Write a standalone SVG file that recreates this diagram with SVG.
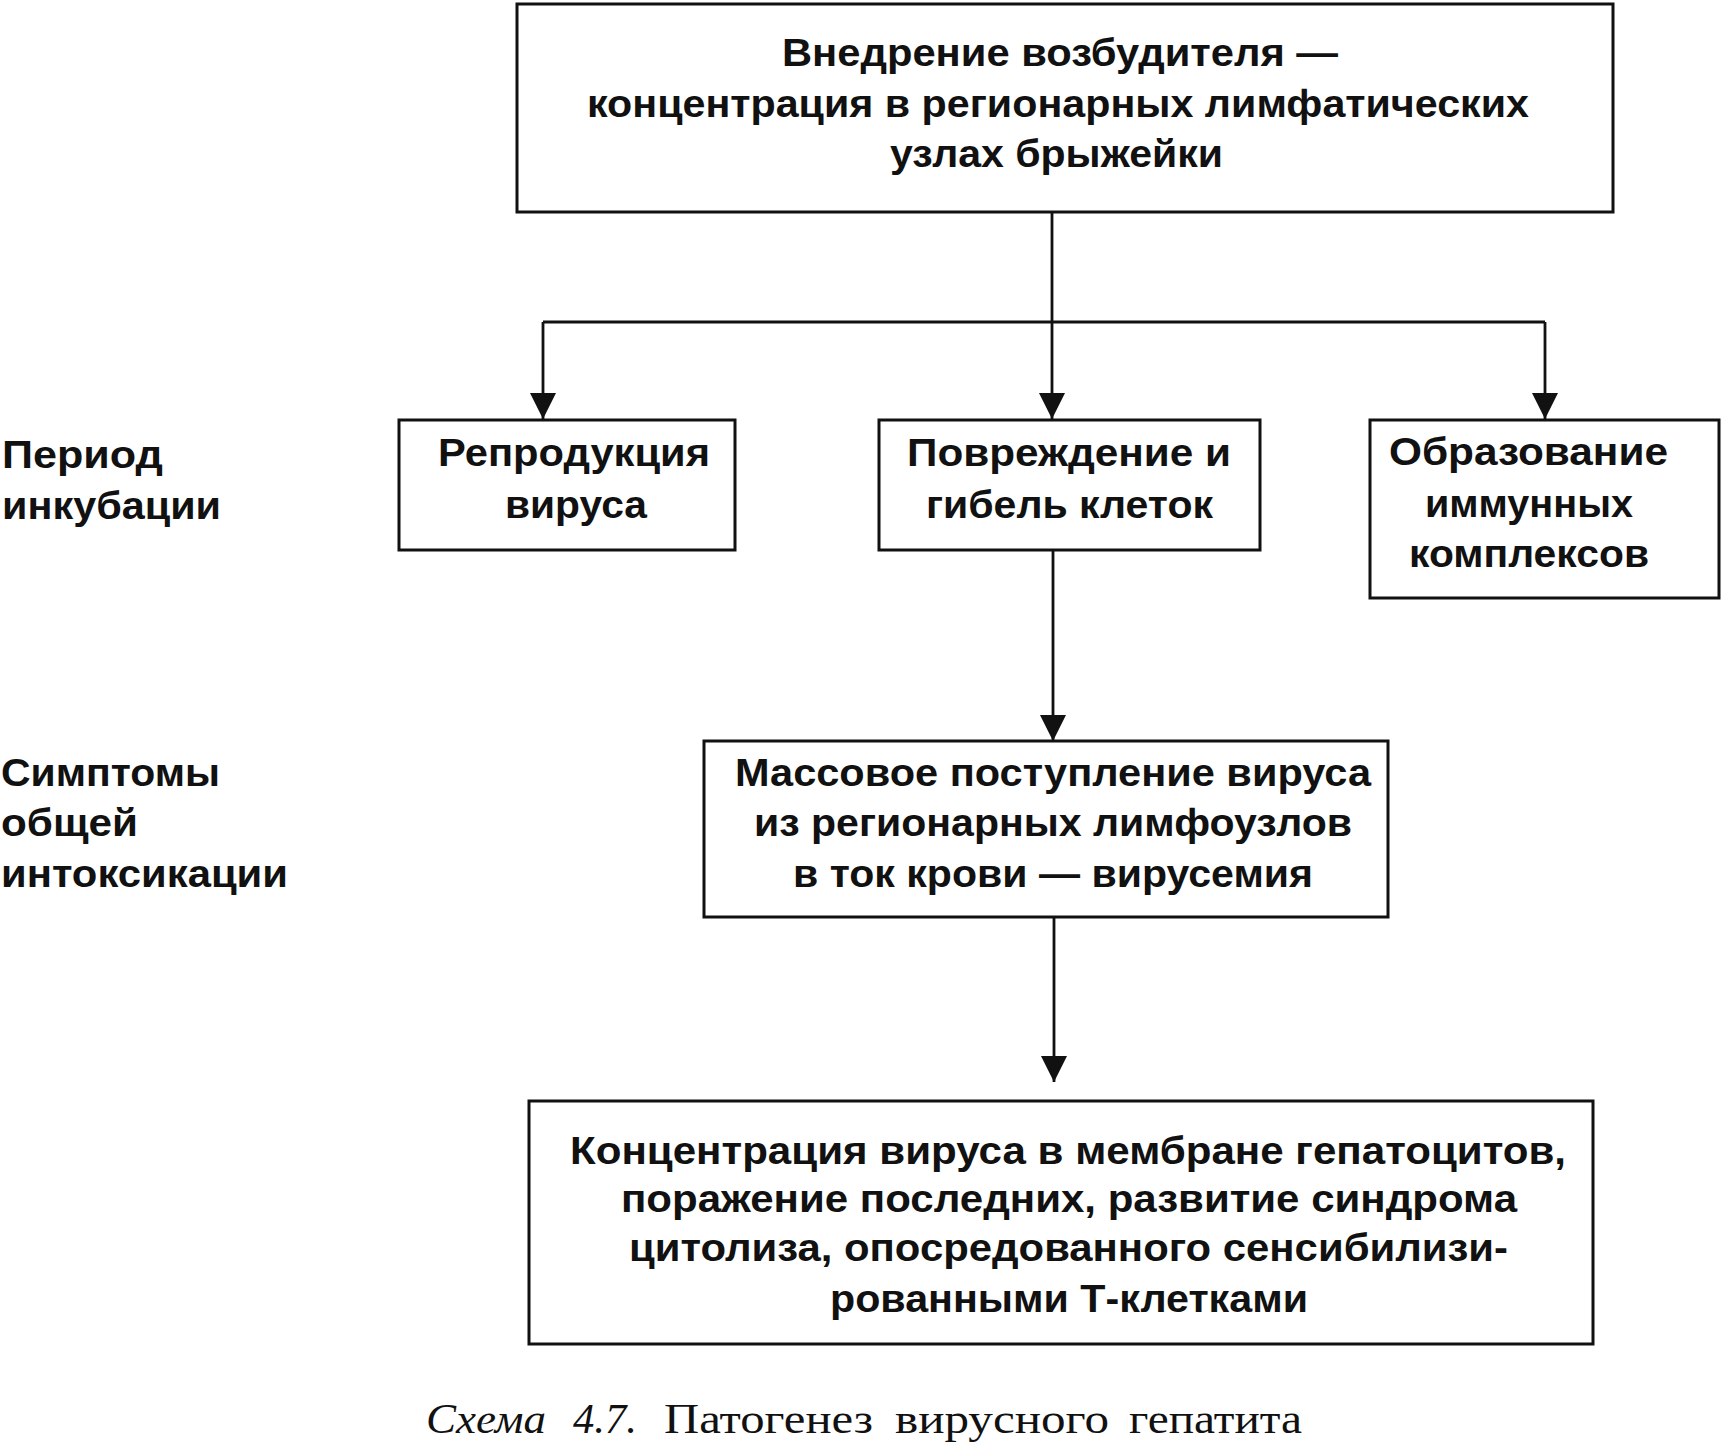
<svg xmlns="http://www.w3.org/2000/svg" width="1722" height="1446" viewBox="0 0 1722 1446">
<style>
.box{fill:#fff;stroke:#111;stroke-width:3}
.t{font-family:"Liberation Sans",Arial,sans-serif;font-weight:bold;font-size:39px;fill:#111}
.c{fill:none;stroke:#111;stroke-width:2.8}
.cap{font-family:"Liberation Serif","Times New Roman",serif;font-size:42px;fill:#111}
.it{font-style:italic}
</style>
<defs>
<marker id="ah" viewBox="0 0 26 26" refX="26" refY="13" markerWidth="26" markerHeight="26" markerUnits="userSpaceOnUse" orient="auto">
<path d="M0,0 L26,13 L0,26 Z" fill="#111"/>
</marker>
</defs>
<rect width="1722" height="1446" fill="#fff"/>
<g id="connectors">
<path class="c" d="M1052,212 V322"/>
<path class="c" d="M543,322 H1545"/>
<path class="c" d="M543,322 V419" marker-end="url(#ah)"/>
<path class="c" d="M1052,322 V419" marker-end="url(#ah)"/>
<path class="c" d="M1545,322 V419" marker-end="url(#ah)"/>
<path class="c" d="M1053,550 V741" marker-end="url(#ah)"/>
<path class="c" d="M1054,917 V1082" marker-end="url(#ah)"/>
</g>
<g id="n-top">
<rect class="box" x="517" y="4" width="1096" height="208"/>
<text class="t" x="782" y="66" textLength="556" lengthAdjust="spacingAndGlyphs">Внедрение возбудителя —</text>
<text class="t" x="587" y="117" textLength="942" lengthAdjust="spacingAndGlyphs">концентрация в регионарных лимфатических</text>
<text class="t" x="890" y="167" textLength="333" lengthAdjust="spacingAndGlyphs">узлах брыжейки</text>
</g>
<g id="label-incubation">
<text class="t" x="2" y="468" textLength="161" lengthAdjust="spacingAndGlyphs">Период</text>
<text class="t" x="2" y="519" textLength="219" lengthAdjust="spacingAndGlyphs">инкубации</text>
</g>
<g id="label-symptoms">
<text class="t" x="1" y="786" textLength="219" lengthAdjust="spacingAndGlyphs">Симптомы</text>
<text class="t" x="1" y="836" textLength="137" lengthAdjust="spacingAndGlyphs">общей</text>
<text class="t" x="1" y="887" textLength="287" lengthAdjust="spacingAndGlyphs">интоксикации</text>
</g>
<g id="n-reproduction">
<rect class="box" x="399" y="420" width="336" height="130"/>
<text class="t" x="438" y="466" textLength="272" lengthAdjust="spacingAndGlyphs">Репродукция</text>
<text class="t" x="505" y="518" textLength="142" lengthAdjust="spacingAndGlyphs">вируса</text>
</g>
<g id="n-damage">
<rect class="box" x="879" y="420" width="381" height="130"/>
<text class="t" x="907" y="466" textLength="324" lengthAdjust="spacingAndGlyphs">Повреждение и</text>
<text class="t" x="926" y="518" textLength="287" lengthAdjust="spacingAndGlyphs">гибель клеток</text>
</g>
<g id="n-immune">
<rect class="box" x="1370" y="420" width="349" height="178"/>
<text class="t" x="1389" y="465" textLength="279" lengthAdjust="spacingAndGlyphs">Образование</text>
<text class="t" x="1425" y="517" textLength="208" lengthAdjust="spacingAndGlyphs">иммунных</text>
<text class="t" x="1409" y="567" textLength="240" lengthAdjust="spacingAndGlyphs">комплексов</text>
</g>
<g id="n-viremia">
<rect class="box" x="704" y="741" width="684" height="176"/>
<text class="t" x="735" y="786" textLength="636" lengthAdjust="spacingAndGlyphs">Массовое поступление вируса</text>
<text class="t" x="754" y="836" textLength="598" lengthAdjust="spacingAndGlyphs">из регионарных лимфоузлов</text>
<text class="t" x="793" y="887" textLength="520" lengthAdjust="spacingAndGlyphs">в ток крови — вирусемия</text>
</g>
<g id="n-hepatocytes">
<rect class="box" x="529" y="1101" width="1064" height="243"/>
<text class="t" x="570" y="1164" textLength="996" lengthAdjust="spacingAndGlyphs">Концентрация вируса в мембране гепатоцитов,</text>
<text class="t" x="621" y="1212" textLength="896" lengthAdjust="spacingAndGlyphs">поражение последних, развитие синдрома</text>
<text class="t" x="629" y="1261" textLength="879" lengthAdjust="spacingAndGlyphs">цитолиза, опосредованного сенсибилизи-</text>
<text class="t" x="830" y="1312" textLength="478" lengthAdjust="spacingAndGlyphs">рованными Т-клетками</text>
</g>
<g id="caption">
<text class="cap it" x="426" y="1433" textLength="120" lengthAdjust="spacingAndGlyphs">Схема</text>
<text class="cap it" x="573" y="1433" textLength="64" lengthAdjust="spacingAndGlyphs">4.7.</text>
<text class="cap" x="664" y="1433" textLength="209" lengthAdjust="spacingAndGlyphs">Патогенез</text>
<text class="cap" x="895" y="1433" textLength="214" lengthAdjust="spacingAndGlyphs">вирусного</text>
<text class="cap" x="1129" y="1433" textLength="173" lengthAdjust="spacingAndGlyphs">гепатита</text>
</g>
</svg>
